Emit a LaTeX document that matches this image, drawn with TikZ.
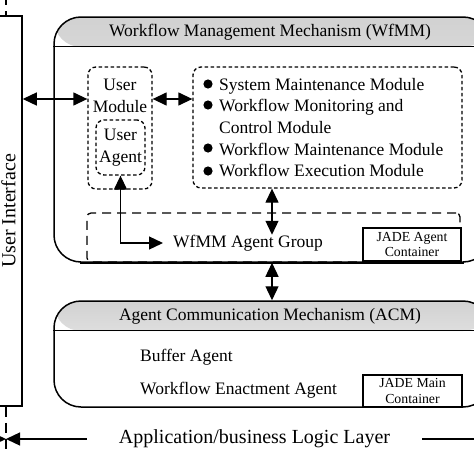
\documentclass[tikz,border=0pt]{standalone}
\usepackage{fontspec}
\setmainfont{Liberation Serif}
\usetikzlibrary{arrows.meta,positioning}

\newcommand{\mainsize}{\fontsize{17.5}{21.6}\selectfont}
\newcommand{\jadesize}{\fontsize{13.8}{15.5}\selectfont}
\newcommand{\layersize}{\fontsize{20}{24}\selectfont}

\tikzset{
  mech/.style={draw, line width=1.5pt, rounded corners=27pt, inner sep=0pt,
    path picture={\shade[top color=black!18, bottom color=white]
      (path picture bounding box.north west) rectangle ([yshift=-30pt]path picture bounding box.north east);}},
  modbox/.style={draw, line width=1.3pt, dash pattern=on 3.5pt off 2.5pt, rounded corners=8pt, inner sep=0pt},
  grpbox/.style={draw, line width=1.3pt, dash pattern=on 9pt off 6pt, rounded corners=4pt, inner sep=0pt},
  jade/.style={draw, line width=1.4pt, fill=white, inner sep=0pt, align=center, font=\jadesize},
  dbl/.style={line width=1.3pt, {Triangle[length=14pt,width=13pt]}-{Triangle[length=14pt,width=13pt]}},
  one/.style={line width=1.3pt, -{Triangle[length=14pt,width=13pt]}},
}

\begin{document}
\begin{tikzpicture}[x=1pt, y=-1pt, font=\mainsize]
\useasboundingbox (0,0) rectangle (474,474);
\clip (0,0) rectangle (474,474);

% User interface column
\node[draw, line width=1.5pt, minimum width=52, minimum height=390] (ui) at (-4,211) {};
\node[rotate=90, anchor=base, font=\layersize] (uilbl) at (15.5,211) {User Interface};

% WfMM
\node[mech, minimum width=436, minimum height=245] (wfmm) at (272,139.5) {};
\draw[line width=1.5pt] ([yshift=-30pt]wfmm.north west) -- ([yshift=-30pt]wfmm.north east);
\node (wfmmtitle) at (270,32) {Workflow Management Mechanism (WfMM)};

% User module and agent
\node[modbox, minimum width=64, minimum height=122] (um) at (120,128) {};
\node[align=center, inner sep=0pt] (umlbl) at (120,96) {User\\Module};
\node[modbox, align=center, minimum width=49, minimum height=55] (ua) at (120.5,147.5) {User\\Agent};

% Modules
\node[modbox, minimum width=269, minimum height=121] (mods) at (327.5,127.5) {};
\node[align=left, anchor=west, inner sep=0pt] (mlist) at (219,127.5)
  {System Maintenance Module\\Workflow Monitoring and\\Control Module\\Workflow Maintenance Module\\Workflow Execution Module};
\foreach \yy in {84,105,148,171}
  \fill (208,\yy) circle (4.6);

% Agent group
\node[grpbox, minimum width=373, minimum height=49] (grp) at (273.5,237.5) {};
\node[anchor=west, inner sep=0pt] (grplbl) at (173,243) {WfMM Agent Group};
\node[jade, minimum width=98, minimum height=33] (jac) at (412,244.5) {JADE Agent\\Container};
\draw[line width=1.5pt] (wfmm.south west) ++(27,0) -- ([xshift=-27pt]wfmm.south east);

% ACM
\node[mech, minimum width=436, minimum height=106] (acm) at (272,354) {};
\draw[line width=1.5pt] ([yshift=-30pt]acm.north west) -- ([yshift=-30pt]acm.north east);
\node (acmtitle) at (270,316) {Agent Communication Mechanism (ACM)};
\node[anchor=west, inner sep=0pt] (ba) at (140,357) {Buffer Agent};
\node[anchor=west, inner sep=0pt] (wea) at (140,390) {Workflow Enactment Agent};
\node[jade, minimum width=99, minimum height=32] (jmc) at (412.5,391) {JADE Main\\Container};

% Arrows
\coordinate (lnk) at (120,99);
\draw[dbl] (ui.east |- lnk) -- (um.west |- lnk);
\draw[dbl] (um.east |- lnk) -- (mods.west |- lnk);
\draw[dbl, shorten >=10pt] (ua.south) |- (grplbl.west);
\draw[dbl] (wfmm.center |- mods.south) -- (wfmm.center |- grplbl.north);
\draw[dbl] (wfmm.south) -- (acm.north);

% Layer
\node[font=\layersize, inner xsep=32pt] (layer) at (254.5,439) {Application/business Logic Layer};
\coordinate (bl) at (6,439);
\coordinate (br) at (480,439);
\coordinate (dtop) at (6,-5);
\coordinate (dbot) at (6,452);
\draw[line width=1.3pt, dash pattern=on 10pt off 6pt] (dtop) -- (dtop |- ui.north);
\draw[line width=1.3pt, dash pattern=on 10pt off 6pt] (dbot |- ui.south) -- (dbot);
\draw[one] (layer.west) -- (bl);
\draw[one] (-40,439) -- (bl);
\draw[line width=1.3pt] (layer.east) -- (br);
\end{tikzpicture}
\end{document}
